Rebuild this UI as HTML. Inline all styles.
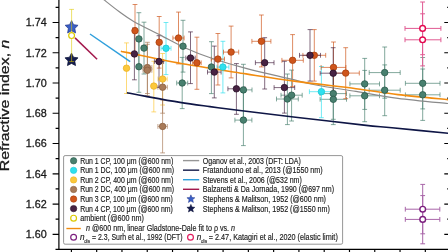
<!DOCTYPE html>
<html><head><meta charset="utf-8"><title>Refractive index plot</title>
<style>html,body{margin:0;padding:0;background:#fff;width:448px;height:252px;overflow:hidden}svg{display:block}</style>
</head><body>
<svg width="448" height="252" viewBox="0 0 448 252">
<rect width="448" height="252" fill="#fff"/>
<g></g>
<path d="M138.9 12.7V64.9M136.5 12.7H141.3M136.5 64.9H141.3" stroke="#48806f" stroke-opacity="0.68" stroke-width="1.0" fill="none"/>
<path d="M144 22.2V74M141.6 22.2H146.4M141.6 74H146.4" stroke="#48806f" stroke-opacity="0.68" stroke-width="1.0" fill="none"/>
<path d="M138.9 41.1V92.3M136.5 41.1H141.3M136.5 92.3H141.3" stroke="#48806f" stroke-opacity="0.68" stroke-width="1.0" fill="none"/>
<path d="M183 20.3V72.1M180.6 20.3H185.4M180.6 72.1H185.4" stroke="#48806f" stroke-opacity="0.68" stroke-width="1.0" fill="none"/>
<path d="M182.2 57.4V108.6M179.8 57.4H184.6M179.8 108.6H184.6M176.7 83H187.7M176.7 80.6V85.4M187.7 80.6V85.4" stroke="#48806f" stroke-opacity="0.68" stroke-width="1.0" fill="none"/>
<path d="M211.4 41.7V93.6M209 41.7H213.8M209 93.6H213.8" stroke="#48806f" stroke-opacity="0.68" stroke-width="1.0" fill="none"/>
<path d="M243.4 64.3V117.9M241 64.3H245.8M241 117.9H245.8M234.8 89.9H252M234.8 87.5V92.3M252 87.5V92.3" stroke="#48806f" stroke-opacity="0.68" stroke-width="1.0" fill="none"/>
<path d="M243.4 92.3V145.6M241 92.3H245.8M241 145.6H245.8M234.9 120.1H251.9M234.9 117.7V122.5M251.9 117.7V122.5" stroke="#48806f" stroke-opacity="0.68" stroke-width="1.0" fill="none"/>
<path d="M287.4 74V124.6M285 74H289.8M285 124.6H289.8M276.5 99H298.3M276.5 96.6V101.4M298.3 96.6V101.4" stroke="#48806f" stroke-opacity="0.68" stroke-width="1.0" fill="none"/>
<path d="M291.6 70.1V121M289.2 70.1H294M289.2 121H294M281 95.2H302.2M281 92.8V97.6M302.2 92.8V97.6" stroke="#48806f" stroke-opacity="0.68" stroke-width="1.0" fill="none"/>
<path d="M333.3 68V119.3M330.9 68H335.7M330.9 119.3H335.7M320.1 93.6H346.5M320.1 91.2V96M346.5 91.2V96" stroke="#48806f" stroke-opacity="0.68" stroke-width="1.0" fill="none"/>
<path d="M333.3 73.7V124.6M330.9 73.7H335.7M330.9 124.6H335.7M320.1 99.3H346.5M320.1 96.9V101.7M346.5 96.9V101.7" stroke="#48806f" stroke-opacity="0.68" stroke-width="1.0" fill="none"/>
<path d="M364.7 58.4V109.4M362.3 58.4H367.1M362.3 109.4H367.1M349.9 83.9H379.5M349.9 81.5V86.3M379.5 81.5V86.3" stroke="#48806f" stroke-opacity="0.68" stroke-width="1.0" fill="none"/>
<path d="M364.7 70.4V121.7M362.3 70.4H367.1M362.3 121.7H367.1M349.9 95.8H379.5M349.9 93.4V98.2M379.5 93.4V98.2" stroke="#48806f" stroke-opacity="0.68" stroke-width="1.0" fill="none"/>
<path d="M384.7 47V98.2M382.3 47H387.1M382.3 98.2H387.1M369.2 72.6H400.2M369.2 70.2V75M400.2 70.2V75" stroke="#48806f" stroke-opacity="0.68" stroke-width="1.0" fill="none"/>
<path d="M384.7 64.9V115.7M382.3 64.9H387.1M382.3 115.7H387.1M369.2 90.2H400.2M369.2 87.8V92.6M400.2 87.8V92.6" stroke="#48806f" stroke-opacity="0.68" stroke-width="1.0" fill="none"/>
<path d="M422.7 57.5V108.9M420.3 57.5H425.1M420.3 108.9H425.1M405.4 83.3H440M405.4 80.9V85.7M440 80.9V85.7" stroke="#48806f" stroke-opacity="0.68" stroke-width="1.0" fill="none"/>
<path d="M422.7 69V120.4M420.3 69H425.1M420.3 120.4H425.1M405.4 94.8H440M405.4 92.4V97.2M440 92.4V97.2" stroke="#48806f" stroke-opacity="0.68" stroke-width="1.0" fill="none"/>
<path d="M166 22.5V74.6M163.6 22.5H168.4M163.6 74.6H168.4M161 48.3H171M161 45.9V50.7M171 45.9V50.7" stroke="#2fe0ee" stroke-opacity="0.68" stroke-width="1.0" fill="none"/>
<path d="M222.9 41.3V92.9M220.5 41.3H225.3M220.5 92.9H225.3M216.9 67.1H228.9M216.9 64.7V69.5M228.9 64.7V69.5" stroke="#2fe0ee" stroke-opacity="0.68" stroke-width="1.0" fill="none"/>
<path d="M321.4 66.5V117.7M319 66.5H323.8M319 117.7H323.8M309.4 91.7H333.4M309.4 89.3V94.1M333.4 89.3V94.1" stroke="#2fe0ee" stroke-opacity="0.68" stroke-width="1.0" fill="none"/>
<path d="M126.5 42.9V93.5M124.1 42.9H128.9M124.1 93.5H128.9" stroke="#fcc83a" stroke-opacity="0.68" stroke-width="1.0" fill="none"/>
<path d="M153.8 61.3V111.9M151.4 61.3H156.2M151.4 111.9H156.2" stroke="#fcc83a" stroke-opacity="0.68" stroke-width="1.0" fill="none"/>
<path d="M162.6 53.5V105M160.2 53.5H165M160.2 105H165M158 79H167.2M158 76.6V81.4M167.2 76.6V81.4" stroke="#fcc83a" stroke-opacity="0.68" stroke-width="1.0" fill="none"/>
<path d="M147.4 42.3V93.5M145 42.3H149.8M145 93.5H149.8M143 67.6H151.8M143 65.2V70M151.8 65.2V70" stroke="#a87a58" stroke-opacity="0.68" stroke-width="1.0" fill="none"/>
<path d="M147.4 44.3V95.7M145 44.3H149.8M145 95.7H149.8M143 70.3H151.8M143 67.9V72.7M151.8 67.9V72.7" stroke="#a87a58" stroke-opacity="0.68" stroke-width="1.0" fill="none"/>
<path d="M162.6 61.2V113.2M160.2 61.2H165M160.2 113.2H165M157.9 87.2H167.3M157.9 84.8V89.6M167.3 84.8V89.6" stroke="#a87a58" stroke-opacity="0.68" stroke-width="1.0" fill="none"/>
<path d="M162.6 100V152.9M160.2 100H165M160.2 152.9H165M157.9 126.4H167.3M157.9 124V128.8M167.3 124V128.8" stroke="#a87a58" stroke-opacity="0.68" stroke-width="1.0" fill="none"/>
<path d="M135 4.5V56.7M132.6 4.5H137.4M132.6 56.7H137.4" stroke="#cf551b" stroke-opacity="0.68" stroke-width="1.0" fill="none"/>
<path d="M159.2 16.5V68.1M156.8 16.5H161.6M156.8 68.1H161.6" stroke="#cf551b" stroke-opacity="0.68" stroke-width="1.0" fill="none"/>
<path d="M178.5 12.1V63.9M176.1 12.1H180.9M176.1 63.9H180.9M172.9 38H184.1M172.9 35.6V40.4M184.1 35.6V40.4" stroke="#cf551b" stroke-opacity="0.68" stroke-width="1.0" fill="none"/>
<path d="M196.9 37.2V89.3M194.5 37.2H199.3M194.5 89.3H199.3M192.6 62.8H201.2M192.6 60.4V65.2M201.2 60.4V65.2" stroke="#cf551b" stroke-opacity="0.68" stroke-width="1.0" fill="none"/>
<path d="M217.9 33.5V85M215.5 33.5H220.3M215.5 85H220.3M211.3 59.1H224.5M211.3 56.7V61.5M224.5 56.7V61.5" stroke="#cf551b" stroke-opacity="0.68" stroke-width="1.0" fill="none"/>
<path d="M231.1 26.1V77.9M228.7 26.1H233.5M228.7 77.9H233.5M223.5 52.1H238.7M223.5 49.7V54.5M238.7 49.7V54.5" stroke="#cf551b" stroke-opacity="0.68" stroke-width="1.0" fill="none"/>
<path d="M261.4 15V66.9M259 15H263.8M259 66.9H263.8M251.9 41.3H270.9M251.9 38.9V43.7M270.9 38.9V43.7" stroke="#cf551b" stroke-opacity="0.68" stroke-width="1.0" fill="none"/>
<path d="M292.6 34.6V86.6M290.2 34.6H295M290.2 86.6H295M281.9 60.3H303.3M281.9 57.9V62.7M303.3 57.9V62.7" stroke="#cf551b" stroke-opacity="0.68" stroke-width="1.0" fill="none"/>
<path d="M314.3 29.6V81.1M311.9 29.6H316.7M311.9 81.1H316.7M302.9 55.3H325.7M302.9 52.9V57.7M325.7 52.9V57.7" stroke="#cf551b" stroke-opacity="0.68" stroke-width="1.0" fill="none"/>
<path d="M333.5 42V93M331.1 42H335.9M331.1 93H335.9M321.1 67.4H345.9M321.1 65V69.8M345.9 65V69.8" stroke="#cf551b" stroke-opacity="0.68" stroke-width="1.0" fill="none"/>
<path d="M345.7 47.7V98.7M343.3 47.7H348.1M343.3 98.7H348.1M332.1 73.1H359.3M332.1 70.7V75.5M359.3 70.7V75.5" stroke="#cf551b" stroke-opacity="0.68" stroke-width="1.0" fill="none"/>
<path d="M134.4 28V79.8M132 28H136.8M132 79.8H136.8" stroke="#472343" stroke-opacity="0.68" stroke-width="1.0" fill="none"/>
<path d="M159 35.7V87.3M156.6 35.7H161.4M156.6 87.3H161.4M154.4 61.5H163.6M154.4 59.1V63.9M163.6 59.1V63.9" stroke="#472343" stroke-opacity="0.68" stroke-width="1.0" fill="none"/>
<path d="M190.5 31.9V83.6M188.1 31.9H192.9M188.1 83.6H192.9M185.8 58H195.2M185.8 55.6V60.4M195.2 55.6V60.4" stroke="#472343" stroke-opacity="0.68" stroke-width="1.0" fill="none"/>
<path d="M214.3 46.1V97.9M211.9 46.1H216.7M211.9 97.9H216.7M207.5 72.1H221.1M207.5 69.7V74.5M221.1 69.7V74.5" stroke="#472343" stroke-opacity="0.68" stroke-width="1.0" fill="none"/>
<path d="M236.4 63.6V114.3M234 63.6H238.8M234 114.3H238.8M227.9 88.8H244.9M227.9 86.4V91.2M244.9 86.4V91.2" stroke="#472343" stroke-opacity="0.68" stroke-width="1.0" fill="none"/>
<path d="M264.7 37.7V89M262.3 37.7H267.1M262.3 89H267.1M255.4 62.7H274M255.4 60.3V65.1M274 60.3V65.1" stroke="#472343" stroke-opacity="0.68" stroke-width="1.0" fill="none"/>
<path d="M284.4 61.3V113.1M282 61.3H286.8M282 113.1H286.8M274.1 87.6H294.7M274.1 85.2V90M294.7 85.2V90" stroke="#472343" stroke-opacity="0.68" stroke-width="1.0" fill="none"/>
<path d="M310 29.6V81.1M307.6 29.6H312.4M307.6 81.1H312.4M299.5 55.3H320.5M299.5 52.9V57.7M320.5 52.9V57.7" stroke="#472343" stroke-opacity="0.68" stroke-width="1.0" fill="none"/>
<path d="M333.2 47.7V98.7M330.8 47.7H335.6M330.8 98.7H335.6M320.2 73.2H346.2M320.2 70.8V75.6M346.2 70.8V75.6" stroke="#472343" stroke-opacity="0.68" stroke-width="1.0" fill="none"/>
<path d="M103 -1 C105.67 1.08 113.82 7.72 119 11.5 C124.18 15.28 127.37 17.85 134.1 21.7 C140.83 25.55 150.75 30.18 159.4 34.6 C168.05 39.02 177.4 44.3 186 48.2 C194.6 52.1 201 54.63 211 58 C221 61.37 232.83 64.92 246 68.4 C259.17 71.88 278.33 76.13 290 78.9 C301.67 81.67 305 82.92 316 85 C327 87.08 342.33 89.18 356 91.4 C369.67 93.62 382.5 96.27 398 98.3 C413.5 100.33 440.5 102.72 449 103.6" fill="none" stroke="#8a8a8a" stroke-width="1.2"/>
<path d="M90 34 L130.2 61.6" fill="none" stroke="#2f9fdc" stroke-width="1.5" stroke-linecap="butt" stroke-linejoin="round"/>
<path d="M75 37.9 L97.1 59.3" fill="none" stroke="#a3194d" stroke-width="1.5" stroke-linecap="butt" stroke-linejoin="round"/>
<path d="M121.4 51.4 C122.67 51.65 118.23 50.75 129 52.9 C139.77 55.05 166.5 60.8 186 64.3 C205.5 67.8 227.67 71.05 246 73.9 C264.33 76.75 277.67 78.93 296 81.4 C314.33 83.87 339 86.5 356 88.7 C373 90.9 382.5 92.77 398 94.6 C413.5 96.43 440.5 98.85 449 99.7" fill="none" stroke="#f28c0f" stroke-width="1.6"/>
<path d="M126.9 92.7 C130.08 93.32 137.15 94.78 146 96.4 C154.85 98.02 169.33 100.7 180 102.4 C190.67 104.1 199.33 105.17 210 106.6 C220.67 108.03 229 109.15 244 111 C259 112.85 280 115.35 300 117.7 C320 120.05 348.67 123.42 364 125.1 C379.33 126.78 377.83 126.42 392 127.8 C406.17 129.18 439.5 132.47 449 133.4" fill="none" stroke="#0e1545" stroke-width="1.6"/>
<circle cx="138.9" cy="38.9" r="3.25" fill="#48806f" stroke="#2b5a4b" stroke-width="0.8"/>
<circle cx="144" cy="48.1" r="3.25" fill="#48806f" stroke="#2b5a4b" stroke-width="0.8"/>
<circle cx="138.9" cy="66.7" r="3.25" fill="#48806f" stroke="#2b5a4b" stroke-width="0.8"/>
<circle cx="183" cy="46.2" r="3.25" fill="#48806f" stroke="#2b5a4b" stroke-width="0.8"/>
<circle cx="182.2" cy="83" r="3.25" fill="#48806f" stroke="#2b5a4b" stroke-width="0.8"/>
<circle cx="211.4" cy="67" r="3.25" fill="#48806f" stroke="#2b5a4b" stroke-width="0.8"/>
<circle cx="243.4" cy="89.9" r="3.25" fill="#48806f" stroke="#2b5a4b" stroke-width="0.8"/>
<circle cx="243.4" cy="120.1" r="3.25" fill="#48806f" stroke="#2b5a4b" stroke-width="0.8"/>
<circle cx="287.4" cy="99" r="3.25" fill="#48806f" stroke="#2b5a4b" stroke-width="0.8"/>
<circle cx="291.6" cy="95.2" r="3.25" fill="#48806f" stroke="#2b5a4b" stroke-width="0.8"/>
<circle cx="333.3" cy="93.6" r="3.25" fill="#48806f" stroke="#2b5a4b" stroke-width="0.8"/>
<circle cx="333.3" cy="99.3" r="3.25" fill="#48806f" stroke="#2b5a4b" stroke-width="0.8"/>
<circle cx="364.7" cy="83.9" r="3.25" fill="#48806f" stroke="#2b5a4b" stroke-width="0.8"/>
<circle cx="364.7" cy="95.8" r="3.25" fill="#48806f" stroke="#2b5a4b" stroke-width="0.8"/>
<circle cx="384.7" cy="72.6" r="3.25" fill="#48806f" stroke="#2b5a4b" stroke-width="0.8"/>
<circle cx="384.7" cy="90.2" r="3.25" fill="#48806f" stroke="#2b5a4b" stroke-width="0.8"/>
<circle cx="422.7" cy="83.3" r="3.25" fill="#48806f" stroke="#2b5a4b" stroke-width="0.8"/>
<circle cx="422.7" cy="94.8" r="3.25" fill="#48806f" stroke="#2b5a4b" stroke-width="0.8"/>
<circle cx="166" cy="48.3" r="3.25" fill="#2fe0ee" stroke="#1cc8d6" stroke-width="0.8"/>
<circle cx="222.9" cy="67.1" r="3.25" fill="#2fe0ee" stroke="#1cc8d6" stroke-width="0.8"/>
<circle cx="321.4" cy="91.7" r="3.25" fill="#2fe0ee" stroke="#1cc8d6" stroke-width="0.8"/>
<circle cx="126.5" cy="68.2" r="3.25" fill="#fcc83a" stroke="#eab22a" stroke-width="0.8"/>
<circle cx="153.8" cy="86.1" r="3.25" fill="#fcc83a" stroke="#eab22a" stroke-width="0.8"/>
<circle cx="162.6" cy="79" r="3.25" fill="#fcc83a" stroke="#eab22a" stroke-width="0.8"/>
<circle cx="147.4" cy="67.6" r="3.25" fill="#a87a58" stroke="#8a6040" stroke-width="0.8"/>
<circle cx="147.4" cy="70.3" r="3.25" fill="#a87a58" stroke="#8a6040" stroke-width="0.8"/>
<circle cx="162.6" cy="87.2" r="3.25" fill="#a87a58" stroke="#8a6040" stroke-width="0.8"/>
<circle cx="162.6" cy="126.4" r="3.25" fill="#a87a58" stroke="#8a6040" stroke-width="0.8"/>
<circle cx="135" cy="30.7" r="3.25" fill="#cf551b" stroke="#a8400e" stroke-width="0.8"/>
<circle cx="159.2" cy="42.3" r="3.25" fill="#cf551b" stroke="#a8400e" stroke-width="0.8"/>
<circle cx="178.5" cy="38" r="3.25" fill="#cf551b" stroke="#a8400e" stroke-width="0.8"/>
<circle cx="196.9" cy="62.8" r="3.25" fill="#cf551b" stroke="#a8400e" stroke-width="0.8"/>
<circle cx="217.9" cy="59.1" r="3.25" fill="#cf551b" stroke="#a8400e" stroke-width="0.8"/>
<circle cx="231.1" cy="52.1" r="3.25" fill="#cf551b" stroke="#a8400e" stroke-width="0.8"/>
<circle cx="261.4" cy="41.3" r="3.25" fill="#cf551b" stroke="#a8400e" stroke-width="0.8"/>
<circle cx="292.6" cy="60.3" r="3.25" fill="#cf551b" stroke="#a8400e" stroke-width="0.8"/>
<circle cx="314.3" cy="55.3" r="3.25" fill="#cf551b" stroke="#a8400e" stroke-width="0.8"/>
<circle cx="333.5" cy="67.4" r="3.25" fill="#cf551b" stroke="#a8400e" stroke-width="0.8"/>
<circle cx="345.7" cy="73.1" r="3.25" fill="#cf551b" stroke="#a8400e" stroke-width="0.8"/>
<circle cx="134.4" cy="53.9" r="3.25" fill="#472343" stroke="#2a0f28" stroke-width="0.8"/>
<circle cx="159" cy="61.5" r="3.25" fill="#472343" stroke="#2a0f28" stroke-width="0.8"/>
<circle cx="190.5" cy="58" r="3.25" fill="#472343" stroke="#2a0f28" stroke-width="0.8"/>
<circle cx="214.3" cy="72.1" r="3.25" fill="#472343" stroke="#2a0f28" stroke-width="0.8"/>
<circle cx="236.4" cy="88.8" r="3.25" fill="#472343" stroke="#2a0f28" stroke-width="0.8"/>
<circle cx="264.7" cy="62.7" r="3.25" fill="#472343" stroke="#2a0f28" stroke-width="0.8"/>
<circle cx="284.4" cy="87.6" r="3.25" fill="#472343" stroke="#2a0f28" stroke-width="0.8"/>
<circle cx="310" cy="55.3" r="3.25" fill="#472343" stroke="#2a0f28" stroke-width="0.8"/>
<circle cx="333.2" cy="73.2" r="3.25" fill="#472343" stroke="#2a0f28" stroke-width="0.8"/>
<polygon points="71.6,20.6 73.6,24.65 78.07,25.3 74.83,28.45 75.6,32.9 71.6,30.8 67.6,32.9 68.37,28.45 65.13,25.3 69.6,24.65" fill="#3a5fc6" stroke="#23378a" stroke-width="0.7" stroke-linejoin="miter"/>
<polygon points="71.5,53.1 73.53,57.21 78.06,57.87 74.78,61.07 75.56,65.58 71.5,63.45 67.44,65.58 68.22,61.07 64.94,57.87 69.47,57.21" fill="#141c4f" stroke="#0c1236" stroke-width="0.7" stroke-linejoin="miter"/>
<path d="M71.6 9.4V61.6M69.2 9.4H74M69.2 61.6H74" stroke="#dcc900" stroke-opacity="0.58" stroke-width="1" fill="none"/>
<circle cx="71.6" cy="35.6" r="2.9" fill="#fff" stroke="#dcc900" stroke-width="1.2"/>
<path d="M422.6 2V54.7M420.2 2H425M420.2 54.7H425M405 28.4H440.9M405 26V30.8M440.9 26V30.8" stroke="#e05a92" stroke-width="1" fill="none"/>
<path d="M422.6 13.8V65.9M420.2 13.8H425M420.2 65.9H425M405 39.8H440.9M405 37.4V42.2M440.9 37.4V42.2" stroke="#e05a92" stroke-width="1" fill="none"/>
<circle cx="422.6" cy="28.4" r="2.85" fill="#fff" stroke="#e3084f" stroke-width="1.4"/>
<circle cx="422.6" cy="39.8" r="2.85" fill="#fff" stroke="#e3084f" stroke-width="1.4"/>
<path d="M422.7 184.4V233.8M420.3 184.4H425.1M420.3 233.8H425.1M405.3 209.2H439.8M405.3 206.8V211.6M439.8 206.8V211.6" stroke="#a865a8" stroke-width="1" fill="none"/>
<path d="M422.7 195.6V243.8M420.3 195.6H425.1M420.3 243.8H425.1M405.3 219.4H439.8M405.3 217V221.8M439.8 217V221.8" stroke="#a865a8" stroke-width="1" fill="none"/>
<circle cx="422.7" cy="209.2" r="2.85" fill="#fff" stroke="#7c1f7e" stroke-width="1.4"/>
<circle cx="422.7" cy="219.4" r="2.85" fill="#fff" stroke="#7c1f7e" stroke-width="1.4"/>
<g font-family="'Liberation Sans', Arial, sans-serif" font-size="8.2" fill="#1a1a1a" stroke="#1a1a1a" stroke-width="0.15"><rect x="63.6" y="155.6" width="279" height="88.6" rx="1.5" fill="#fff" stroke="#8a8a8a" stroke-width="0.9"/><circle cx="73.6" cy="160.8" r="3.2" fill="#48806f" stroke="#2b5a4b" stroke-width="0.6"/><text x="80.2" y="163.8" textLength="93.0" lengthAdjust="spacingAndGlyphs">Run 1 CP, 100 μm (@600 nm)</text><circle cx="73.6" cy="170.36" r="3.2" fill="#2fe0ee" stroke="#1cc8d6" stroke-width="0.6"/><text x="80.2" y="173.36" textLength="93.8" lengthAdjust="spacingAndGlyphs">Run 1 DC, 100 μm (@600 nm)</text><circle cx="73.6" cy="179.92" r="3.2" fill="#fcc83a" stroke="#eab22a" stroke-width="0.6"/><text x="80.2" y="182.92" textLength="93.0" lengthAdjust="spacingAndGlyphs">Run 2 CP, 400 μm (@600 nm)</text><circle cx="73.6" cy="189.48" r="3.2" fill="#a87a58" stroke="#8a6040" stroke-width="0.6"/><text x="80.2" y="192.48" textLength="93.8" lengthAdjust="spacingAndGlyphs">Run 2 DC, 400 μm (@600 nm)</text><circle cx="73.6" cy="199.04" r="3.2" fill="#cf551b" stroke="#a8400e" stroke-width="0.6"/><text x="80.2" y="202.04" textLength="92.6" lengthAdjust="spacingAndGlyphs">Run 3 CP, 100 μm (@600 nm)</text><circle cx="73.6" cy="208.6" r="3.2" fill="#472343" stroke="#2a0f28" stroke-width="0.6"/><text x="80.2" y="211.6" textLength="92.6" lengthAdjust="spacingAndGlyphs">Run 4 CP, 100 μm (@600 nm)</text><circle cx="73.6" cy="218.16" r="2.9" fill="#fff" stroke="#dcc900" stroke-width="1.2"/><text x="80.2" y="221.16" textLength="63.7" lengthAdjust="spacingAndGlyphs">ambient (@600 nm)</text><path d="M66.4 228.52H80.8" stroke="#f28c0f" stroke-width="1.4"/><text x="86.1" y="230.72" textLength="149" lengthAdjust="spacingAndGlyphs"><tspan font-style="italic">n</tspan> @600 nm, linear Gladstone-Dale fit to ρ vs. <tspan font-style="italic">n</tspan></text><circle cx="73.6" cy="237.28" r="2.9" fill="#fff" stroke="#7c1f7e" stroke-width="1.2"/><text x="80" y="240.28" font-style="italic">n</text><text x="84.2" y="242.88" font-style="italic" font-size="5" stroke-width="0.1" textLength="5.8" lengthAdjust="spacingAndGlyphs">dia</text><text x="92" y="240.28" textLength="90.5" lengthAdjust="spacingAndGlyphs">= 2.3, Surh et al., 1992 (DFT)</text><circle cx="190.5" cy="237.28" r="2.9" fill="#fff" stroke="#e21a5c" stroke-width="1.2"/><text x="196.8" y="240.28" font-style="italic">n</text><text x="201" y="242.88" font-style="italic" font-size="5" stroke-width="0.1" textLength="6" lengthAdjust="spacingAndGlyphs">dia</text><text x="208.8" y="240.28" textLength="129" lengthAdjust="spacingAndGlyphs">= 2.47, Katagiri et al., 2020 (elastic limit)</text><path d="M183 160.6H199.2" stroke="#969696" stroke-width="1.4"/><text x="202.8" y="163.8" textLength="98.0" lengthAdjust="spacingAndGlyphs">Oganov et al., 2003 (DFT: LDA)</text><path d="M183 170.16H199.2" stroke="#0e1545" stroke-width="1.4"/><text x="202.8" y="173.36" textLength="119.9" lengthAdjust="spacingAndGlyphs">Fratanduono et al., 2013 (@1550 nm)</text><path d="M183 179.72H199.2" stroke="#2f9fdc" stroke-width="1.4"/><text x="202.8" y="182.92" textLength="99.0" lengthAdjust="spacingAndGlyphs">Stevens et al., 2006 (@532 nm)</text><path d="M183 189.28H199.2" stroke="#a3194d" stroke-width="1.4"/><text x="202.8" y="192.48" textLength="131.2" lengthAdjust="spacingAndGlyphs">Balzaretti &amp; Da Jornada, 1990 (@697 nm)</text><polygon points="190.9,194.84 192.01,197.51 194.89,197.74 192.7,199.62 193.37,202.44 190.9,200.93 188.43,202.44 189.1,199.62 186.91,197.74 189.79,197.51" fill="#3a5fc6" stroke="#23378a" stroke-width="0.5" stroke-linejoin="miter"/><text x="202.8" y="202.04" textLength="123.2" lengthAdjust="spacingAndGlyphs">Stephens &amp; Malitson, 1952 (@600 nm)</text><polygon points="190.9,204.4 192.01,207.07 194.89,207.3 192.7,209.18 193.37,212 190.9,210.49 188.43,212 189.1,209.18 186.91,207.3 189.79,207.07" fill="#141c4f" stroke="#0c1236" stroke-width="0.5" stroke-linejoin="miter"/><text x="202.8" y="211.6" textLength="127.1" lengthAdjust="spacingAndGlyphs">Stephens &amp; Malitson, 1952 (@1550 nm)</text></g>
<path d="M58.9 0V249.9" stroke="#000" stroke-width="1.2" fill="none"/>
<path d="M55.5 249.4H448" stroke="#000" stroke-width="1.2" fill="none"/>
<path d="M55.6 7.37H59M447.2 7.37H449M52.6 22.5H59M444.3 22.5H449M55.6 37.63H59M447.2 37.63H449M52.6 52.76H59M444.3 52.76H449M55.6 67.89H59M447.2 67.89H449M52.6 83.02H59M444.3 83.02H449M55.6 98.15H59M447.2 98.15H449M52.6 113.28H59M444.3 113.28H449M55.6 128.41H59M447.2 128.41H449M52.6 143.54H59M444.3 143.54H449M55.6 158.67H59M447.2 158.67H449M52.6 173.8H59M444.3 173.8H449M55.6 188.93H59M447.2 188.93H449M52.6 204.06H59M444.3 204.06H449M55.6 219.19H59M447.2 219.19H449M52.6 234.32H59M444.3 234.32H449M71.4 249.4V253M96.68 249.4V253M121.96 249.4V253M147.24 249.4V253M172.52 249.4V253M197.8 249.4V253M223.08 249.4V253M248.36 249.4V253M273.64 249.4V253M298.92 249.4V253M324.2 249.4V253M349.48 249.4V253M374.76 249.4V253M400.04 249.4V253M425.32 249.4V253" stroke="#000" stroke-width="1.15" fill="none"/>
<g font-family="'Liberation Sans', Arial, sans-serif" font-size="11.3" fill="#1a1a1a" stroke="#1a1a1a" stroke-width="0.3"><text x="46.8" y="26.3" text-anchor="end" textLength="21.0" lengthAdjust="spacingAndGlyphs">1.74</text><text x="46.8" y="56.56" text-anchor="end" textLength="21.0" lengthAdjust="spacingAndGlyphs">1.72</text><text x="46.8" y="86.82" text-anchor="end" textLength="21.0" lengthAdjust="spacingAndGlyphs">1.70</text><text x="46.8" y="117.08" text-anchor="end" textLength="21.0" lengthAdjust="spacingAndGlyphs">1.68</text><text x="46.8" y="147.34" text-anchor="end" textLength="21.0" lengthAdjust="spacingAndGlyphs">1.66</text><text x="46.8" y="177.6" text-anchor="end" textLength="21.0" lengthAdjust="spacingAndGlyphs">1.64</text><text x="46.8" y="207.86" text-anchor="end" textLength="21.0" lengthAdjust="spacingAndGlyphs">1.62</text><text x="46.8" y="238.12" text-anchor="end" textLength="21.0" lengthAdjust="spacingAndGlyphs">1.60</text></g>
<g font-family="'Liberation Sans', Arial, sans-serif" fill="#1a1a1a" stroke="#1a1a1a" stroke-width="0.3"><text transform="translate(9.4 171.2) rotate(-90)" font-size="13.4" textLength="131.5" lengthAdjust="spacingAndGlyphs">Refractive index, <tspan font-style="italic">n</tspan></text></g>
</svg>
</body></html>
